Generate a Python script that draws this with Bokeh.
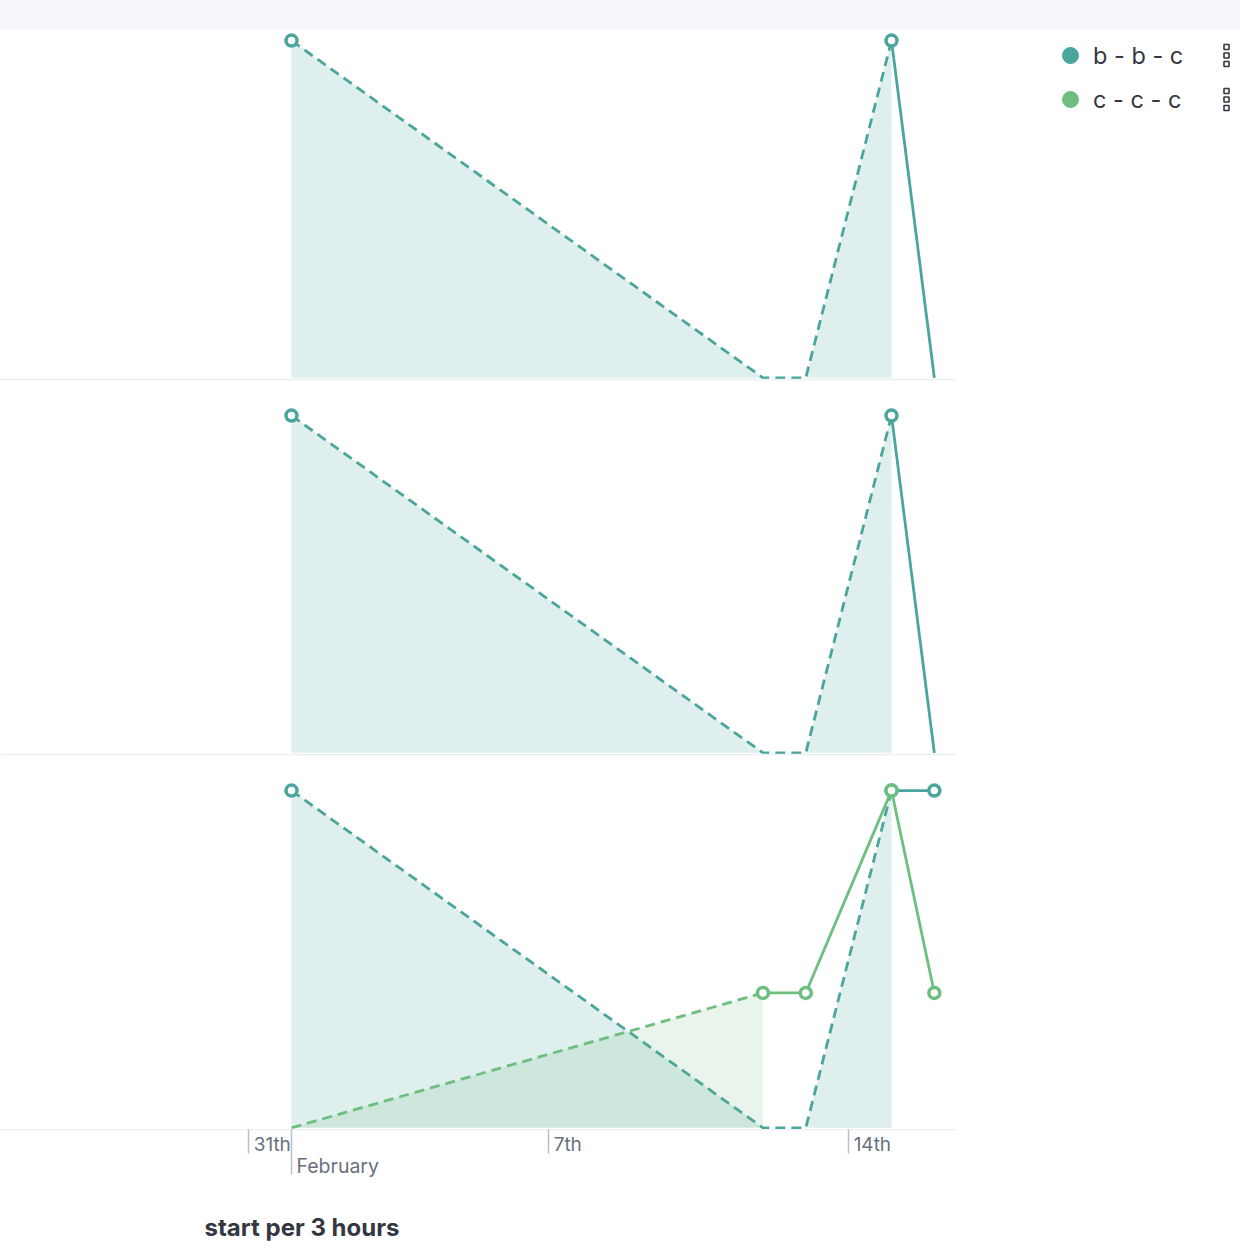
import pandas as pd
from bokeh.plotting import figure
from bokeh.layouts import column, row
from bokeh.models import (ColumnDataSource, Range1d, FixedTicker, Legend, LegendItem,
                          Label, Div, LinearAxis, CustomJSTickFormatter)
from bokeh.core.properties import value
from bokeh.embed import file_html
from bokeh.resources import INLINE

DAY = 86400000


def to_ms(s):
    return pd.Timestamp(s).value // 10**6


# ---------------- data ----------------
series_names = ["b - b - c", "c - c - c"]
teal = "#4AA59C"
green = "#6DBE7F"

# b - b - c : fitted (dashed) part, identical in every panel
bbc_fit_dates = ["2021-02-01", "2021-02-12", "2021-02-13", "2021-02-15"]
bbc_fit_values = [5, 0, 0, 5]
# b - b - c : measured (solid) part per panel
bbc_dates = ["2021-02-15", "2021-02-16"]
bbc_values_by_panel = [[5, 0], [5, 0], [5, 5]]
bbc_point_dates_by_panel = [["2021-02-01", "2021-02-15"],
                            ["2021-02-01", "2021-02-15"],
                            ["2021-02-01", "2021-02-15", "2021-02-16"]]
bbc_point_values_by_panel = [[5, 5], [5, 5], [5, 5, 5]]

# c - c - c : only in the third panel
ccc_fit_dates = ["2021-02-01", "2021-02-12"]
ccc_fit_values = [0, 2]
ccc_dates = ["2021-02-12", "2021-02-13", "2021-02-15", "2021-02-16"]
ccc_values = [2, 2, 5, 2]

# axis ticks
day_tick_dates = ["2021-01-31", "2021-02-07", "2021-02-14"]
day_tick_labels = ["31th", "7th", "14th"]
month_tick_dates = ["2021-02-01"]
month_tick_labels = ["February"]
axis_title = "start per 3 hours"

# ---------------- layout ----------------
FONT = "Inter"
TEXT_DARK = "#343741"
TEXT_GREY = "#69707D"
AXIS_LINE = "#ECEFF2"
TICK_LINE = "#B9BFC7"
PX_PER_DAY = 300 / 7
feb1 = to_ms("2021-02-01")
xr = Range1d(feb1 - (291 / PX_PER_DAY) * DAY, feb1 + (665 / PX_PER_DAY) * DAY)

FRAME_W = 956
FRAME_H = 349
LW = 2.8
DASH = "10 6"
MK_SIZE = 11
MK_LW = 3.5


def make_panel(bottom_border):
    p = figure(frame_width=FRAME_W, frame_height=FRAME_H, x_range=xr,
               y_range=Range1d(-0.025, 5.15), output_backend="svg",
               toolbar_location=None, x_axis_location=None, y_axis_location=None,
               min_border_left=0, min_border_right=0, min_border_top=0,
               min_border_bottom=bottom_border)
    p.grid.visible = False
    p.outline_line_color = None
    return p


def draw_bbc(p, i):
    fit = ColumnDataSource(dict(x=[to_ms(d) for d in bbc_fit_dates], y=bbc_fit_values))
    p.varea(x="x", y1=0, y2="y", source=fit, fill_color=teal, fill_alpha=0.18)
    p.line("x", "y", source=fit, line_color=teal, line_width=LW, line_dash=DASH)
    solid = ColumnDataSource(dict(x=[to_ms(d) for d in bbc_dates], y=bbc_values_by_panel[i]))
    p.line("x", "y", source=solid, line_color=teal, line_width=LW)


def draw_bbc_points(p, i):
    pts = ColumnDataSource(dict(x=[to_ms(d) for d in bbc_point_dates_by_panel[i]],
                                y=bbc_point_values_by_panel[i]))
    p.scatter("x", "y", source=pts, marker="circle", size=MK_SIZE, fill_color="white",
              line_color=teal, line_width=MK_LW)


panels = []
for i, bb in enumerate([26, 26, 0]):
    p = make_panel(bb)
    draw_bbc(p, i)
    if i == 2:
        cfit = ColumnDataSource(dict(x=[to_ms(d) for d in ccc_fit_dates], y=ccc_fit_values))
        p.varea(x="x", y1=0, y2="y", source=cfit, fill_color=green, fill_alpha=0.15)
        p.line("x", "y", source=cfit, line_color=green, line_width=LW, line_dash=DASH)
        csol = ColumnDataSource(dict(x=[to_ms(d) for d in ccc_dates], y=ccc_values))
        p.line("x", "y", source=csol, line_color=green, line_width=LW)
        draw_bbc_points(p, i)
        p.scatter("x", "y", source=csol, marker="circle", size=MK_SIZE, fill_color="white",
                  line_color=green, line_width=MK_LW)
    else:
        draw_bbc_points(p, i)
    panels.append(p)

# baseline axes for the first two panels
for p in panels[:2]:
    ax = LinearAxis(ticker=FixedTicker(ticks=[]), axis_line_color=AXIS_LINE,
                    axis_line_width=1.5, major_tick_line_color=None,
                    minor_tick_line_color=None, major_label_text_font_size="0px",
                    major_label_standoff=0)
    p.add_layout(ax, "below")

# ---------------- time axis strip ----------------
AX_H = 123
axfig = figure(frame_width=FRAME_W, frame_height=AX_H, x_range=xr,
               y_range=Range1d(0, AX_H), output_backend="svg", toolbar_location=None,
               x_axis_location=None, y_axis_location=None, min_border_left=0,
               min_border_right=0, min_border_top=0, min_border_bottom=0)
axfig.grid.visible = False
axfig.outline_line_color = None
tax = LinearAxis(ticker=FixedTicker(ticks=[to_ms(d) for d in month_tick_dates],
                                    minor_ticks=[to_ms(d) for d in day_tick_dates]),
                 axis_line_color=AXIS_LINE, axis_line_width=1.5,
                 major_tick_in=45, major_tick_out=0, minor_tick_in=24, minor_tick_out=0,
                 major_tick_line_color=TICK_LINE, minor_tick_line_color=TICK_LINE,
                 major_tick_line_width=1.5, minor_tick_line_width=1.5,
                 formatter=CustomJSTickFormatter(code="return ''"),
                 major_label_text_font_size="0px", major_label_standoff=0)
axfig.add_layout(tax, "above")

day_src = ColumnDataSource(dict(x=[to_ms(d) for d in day_tick_dates],
                                y=[AX_H - 15] * len(day_tick_dates), t=day_tick_labels))
axfig.text(x="x", y="y", text="t", source=day_src, x_offset=5,
           text_font=value(FONT), text_font_size=value("19px"), text_color=TEXT_GREY,
           text_baseline="alphabetic", text_align="left")
mon_src = ColumnDataSource(dict(x=[to_ms(d) for d in month_tick_dates],
                                y=[AX_H - 36] * len(month_tick_dates), t=month_tick_labels))
axfig.text(x="x", y="y", text="t", source=mon_src, x_offset=5,
           text_font=value(FONT), text_font_size=value("19.5px"), text_color=TEXT_GREY,
           text_baseline="alphabetic", text_align="left")
axfig.add_layout(Label(x=204, y=AX_H - 98, x_units="screen", y_units="screen",
                       text=axis_title, text_font=FONT, text_font_style="bold",
                       text_font_size="24px", text_color=TEXT_DARK,
                       text_baseline="middle", text_align="left"))

# ---------------- legend column ----------------
LEG_W = 284
LEG_H = FRAME_H + 26
TOP_GAP = 5
legfig = figure(frame_width=LEG_W, frame_height=LEG_H, x_range=Range1d(0, LEG_W),
                y_range=Range1d(0, LEG_H), output_backend="svg", toolbar_location=None,
                x_axis_location=None, y_axis_location=None, min_border_left=0,
                min_border_right=0, min_border_top=0, min_border_bottom=0)
legfig.grid.visible = False
legfig.outline_line_color = None
# swatch renderers for the legend (their single point lies outside the visible range)
leg_renderers = [legfig.scatter(x=[-100], y=[-100], marker="circle", fill_color=c,
                                line_color=c) for c in (teal, green)]
ROW_H, ROW_GAP = 40, 4
legend = Legend(items=[LegendItem(label=n, renderers=[r])
                       for n, r in zip(series_names, leg_renderers)],
                location=(94, LEG_H - TOP_GAP - 2 * ROW_H - ROW_GAP), orientation="vertical",
                glyph_width=ROW_H, glyph_height=ROW_H, label_height=ROW_H, spacing=ROW_GAP,
                padding=0, margin=0, label_standoff=3,
                border_line_color=None, background_fill_alpha=0,
                label_text_font=FONT, label_text_font_size="23.5px",
                label_text_color=TEXT_DARK)
legfig.add_layout(legend, "center")

# small "actions" handles next to each legend entry
row_centres = [LEG_H - TOP_GAP - ROW_H / 2 - k * (ROW_H + ROW_GAP) for k in range(2)]
hx, hy = [], []
for c in row_centres:
    for dy in (8.5, 0, -8.5):
        hx.append(270)
        hy.append(c + dy)
legfig.scatter(hx, hy, marker="square", size=5, fill_color="white",
               line_color=TEXT_DARK, line_width=1.6)

strip = Div(width=1240, height=30, margin=(0, 0, 0, 0),
            styles={"background-color": "#F7F8FC"})

layout = column(strip, row(panels[0], legfig, spacing=0), panels[1], panels[2], axfig,
                spacing=0)

open("out.html", "w").write(file_html(layout, INLINE))
